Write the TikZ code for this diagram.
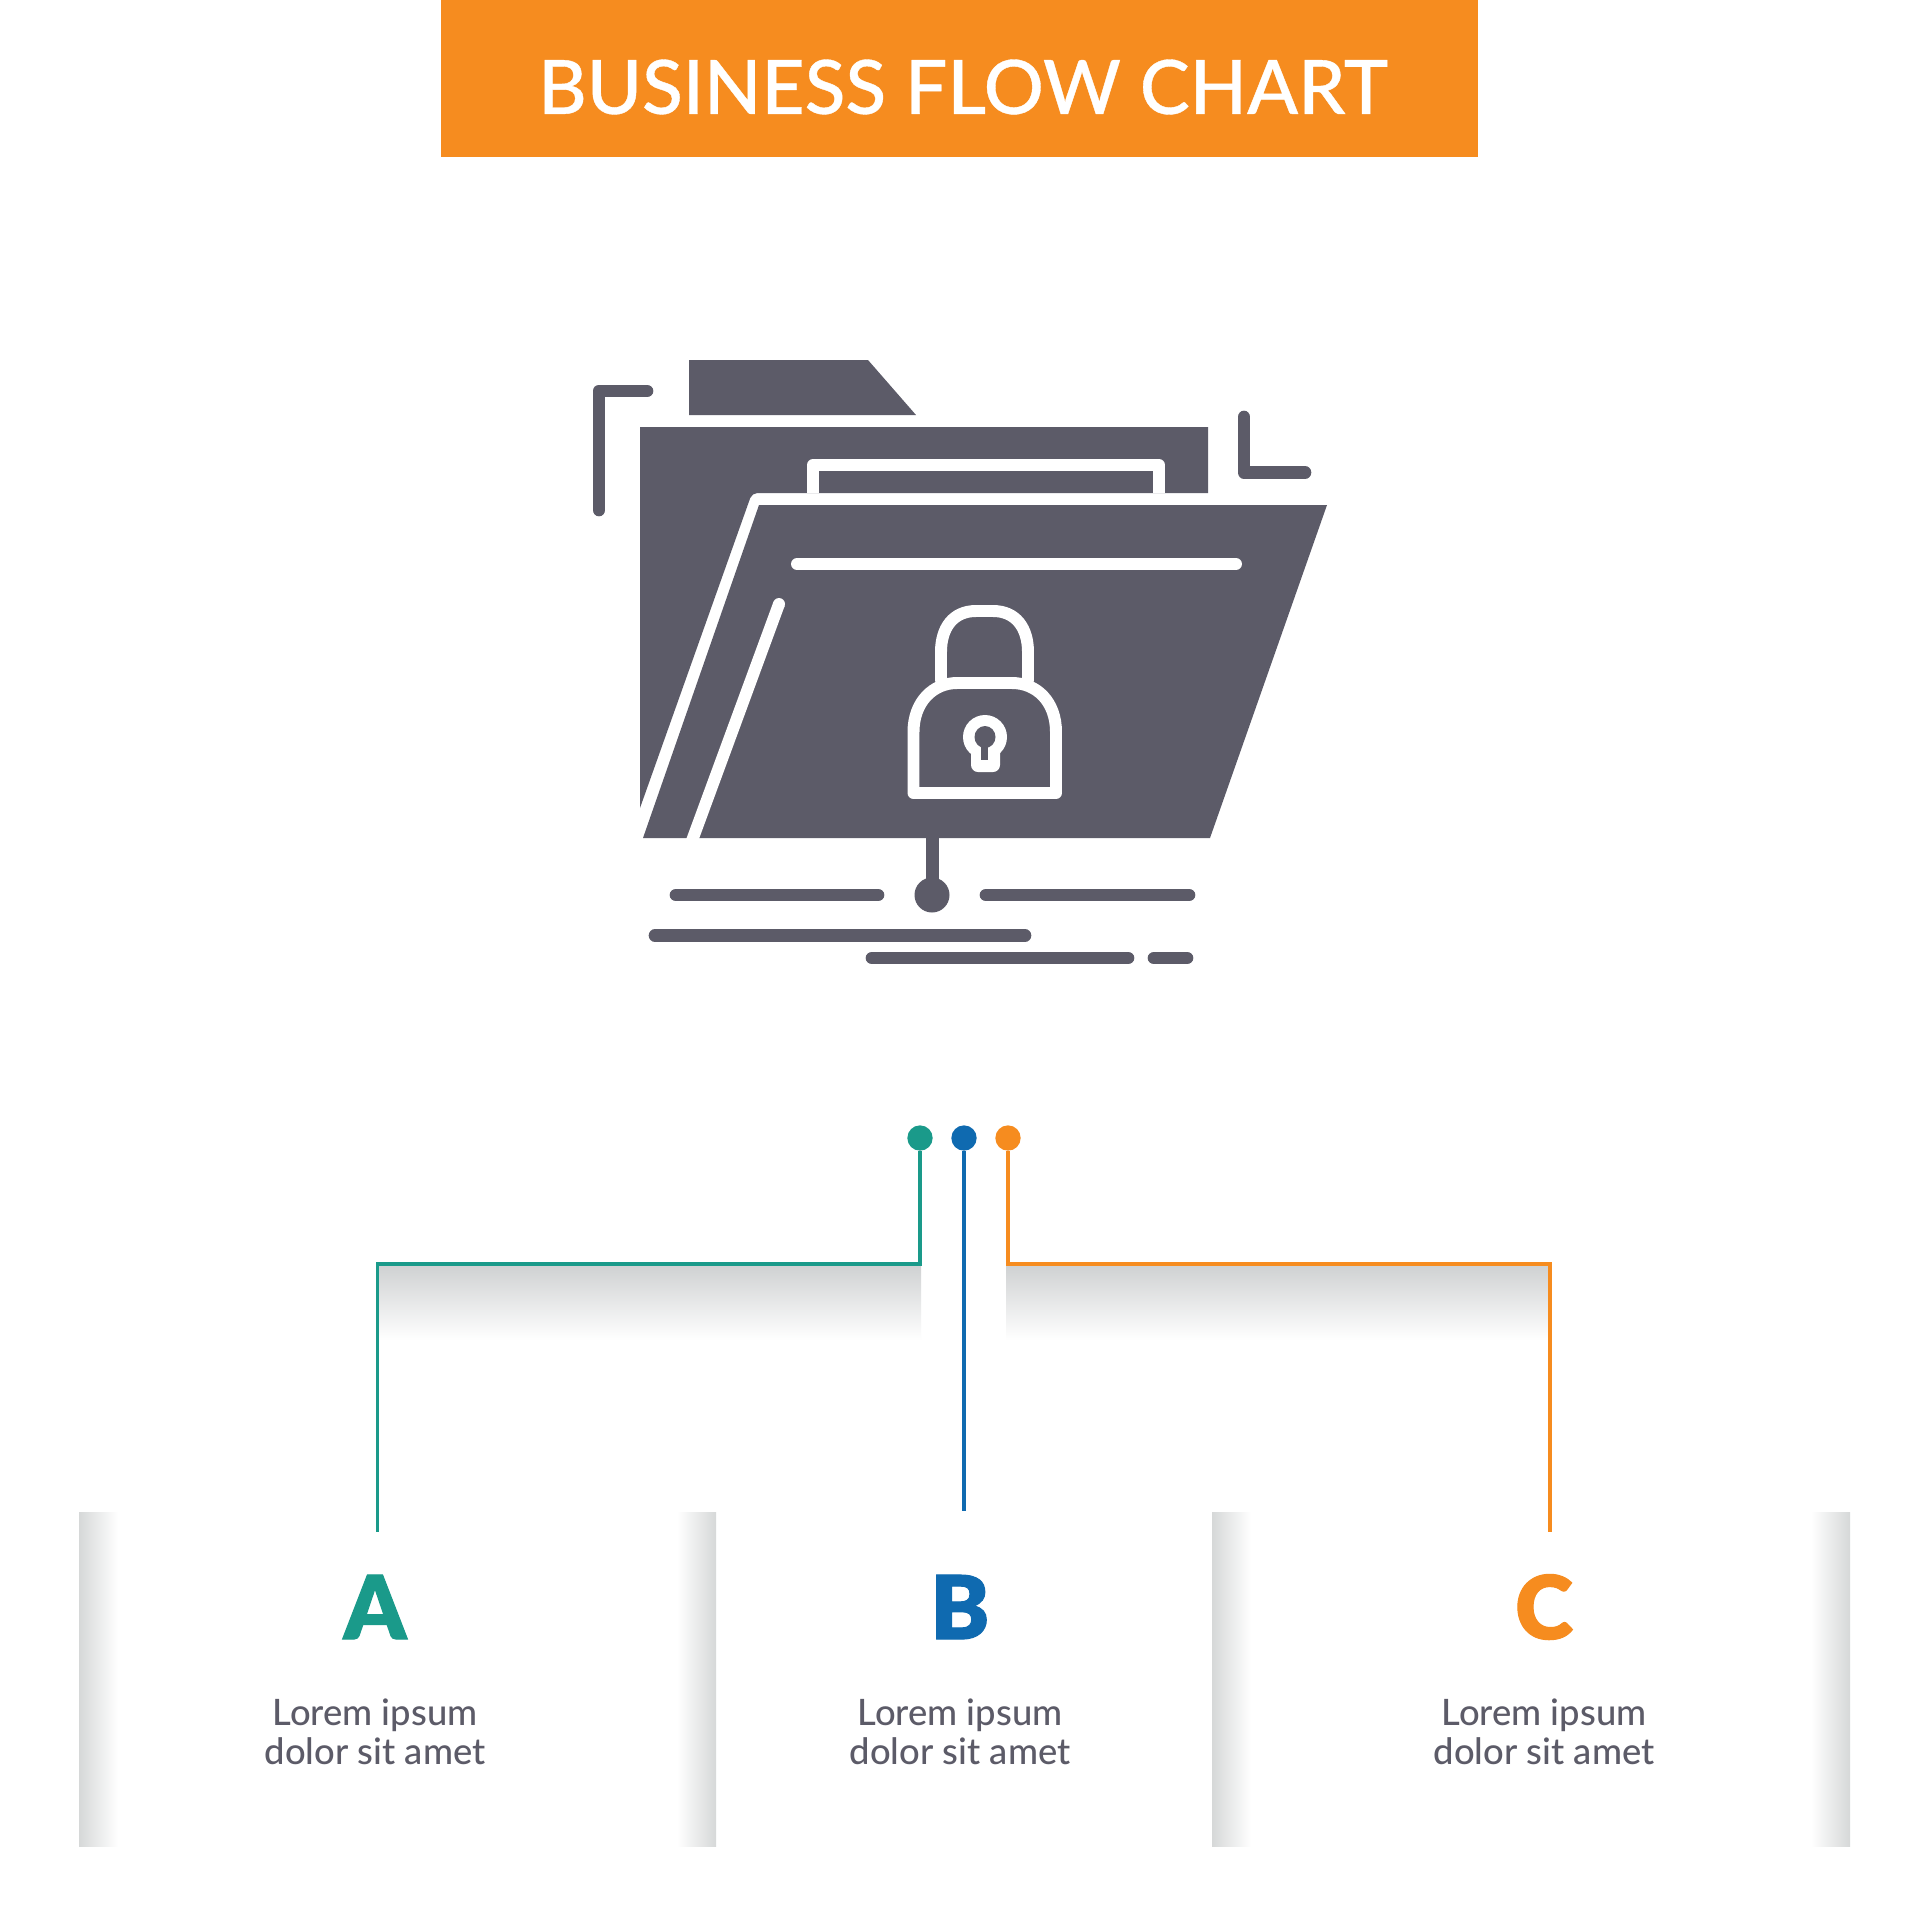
\documentclass[tikz,border=0pt]{standalone}
\usepackage{fontspec}
\setmainfont{Lato Medium}
\newfontfamily\titlefont[RawFeature={embolden=0.5}]{Lato Medium}
\newfontfamily\heavyfont[RawFeature={embolden=1.2}]{Lato Black}
\usepackage{tikz}
\usetikzlibrary{calc}
\definecolor{slate}{HTML}{5C5B68}
\definecolor{banner}{HTML}{F68C1F}
\definecolor{tealline}{HTML}{1A9A8A}
\definecolor{blueline}{HTML}{0F6AB0}
\definecolor{shadow}{HTML}{CFD1D2}
\definecolor{sideshadow}{HTML}{D6D8D8}

\begin{document}
\begin{tikzpicture}
      [x = 0.01cm, y = -0.01cm,
      iconline/.style={slate, line width = 3.6pt, line cap = round, line join = round},
      cutline/.style={white, line width = 3.4pt, line cap = round, line join = round},
      wire/.style={line width = 0.9pt},
      dot/.style= {
         circle,
         inner sep = 0pt,
         minimum size = 7.2pt
      },
      letter/.style= {
         font = \heavyfont\fontsize{25pt}{25pt}\selectfont
      },
      caption/.style= {
         text = slate,
         align = center,
         font = \fontsize{10.35pt}{11.1pt}\selectfont
      }]

      \useasboundingbox (0, 0) rectangle (1920, 1920);
      \fill[white] (0, 0) rectangle (1920, 1920);

      % banner
      \fill[banner] (441, 0) rectangle (1478, 157);
      \node[white, font = \titlefont\fontsize{21.3pt}{21.3pt}\selectfont] (title) at (963, 87) {BUSINESS FLOW CHART};

      % folder
      \fill[slate] (689, 360) -- (868, 360) -- (916, 415) -- (689, 415) -- cycle;
      \fill[slate] (640, 427) -- (1208, 427) -- (1208, 493) [rounded corners = 1.5pt] -- (752, 493) [sharp corners] -- (640, 808) -- cycle;
      \fill[slate] (759, 505) -- (1327, 505) -- (1210, 838) -- (643, 838) -- cycle;
      \draw[cutline, fill = slate, line cap = butt] (813, 493) -- (813, 465) -- (1159, 465) -- (1159, 493);
      \draw[cutline] (797, 564) -- (1236, 564);
      \draw[cutline, line cap = butt] (779, 604) -- (691.5, 842);
      \fill[white] (779, 604) circle (6);

      % lock
      \draw[cutline] (941, 680) -- (941, 652) .. controls (941, 628) and (953, 611) .. (976, 611)
         -- (993, 611) .. controls (1016, 611) and (1028, 628) .. (1028, 652) -- (1028, 680);
      \draw[cutline] (913.5, 793) -- (913.5, 732) .. controls (913.5, 702) and (933, 683) .. (957, 683)
         -- (1012, 683) .. controls (1037, 683) and (1056, 702) .. (1056, 732) -- (1056, 793) -- cycle;
      \fill[white] (985, 737) ellipse (22 and 22);
      \fill[white, rounded corners = 2] (971, 745) rectangle (1000, 772);
      \fill[slate] (985, 737) ellipse (10.5 and 11);
      \fill[slate] (981, 740) rectangle (988, 760);

      % stem and text lines
      \fill[slate] (926, 838) rectangle (938.5, 880);
      \fill[slate] (932, 895) circle (17.5);
      \draw[iconline] (676, 895) -- (878, 895);
      \draw[iconline] (986, 895) -- (1189, 895);
      \draw[iconline] (655, 935.5) -- (1025, 935.5);
      \draw[iconline] (872, 958) -- (1128, 958);
      \draw[iconline] (1154, 958) -- (1187, 958);
      \draw[iconline] (599, 510) -- (599, 391) -- (647, 391);
      \draw[iconline] (1244, 417) -- (1244, 472.5) -- (1305, 472.5);

      % shadows
      \shade[top color = shadow, bottom color = white] (378, 1265) rectangle (921, 1340);
      \shade[top color = shadow, bottom color = white] (1006, 1265) rectangle (1549, 1340);
      \shade[left color = sideshadow, right color = white] (79, 1512) rectangle (118, 1846);
      \shade[left color = white, right color = sideshadow] (677, 1512) rectangle (716, 1846);
      \shade[left color = sideshadow, right color = white] (1212, 1512) rectangle (1251, 1846);
      \shade[left color = white, right color = sideshadow] (1811, 1512) rectangle (1850, 1846);

      % dots and wires
      \node[dot, fill = tealline] (dotA) at (920, 1138) {};
      \node[dot, fill = blueline] (dotB) at (964, 1138) {};
      \node[dot, fill = banner] (dotC) at (1008, 1138) {};
      \coordinate (endA) at (377.5, 1532);
      \coordinate (endB) at (964, 1511);
      \coordinate (endC) at (1550, 1532);
      \coordinate (elbowA) at (920, 1264);
      \coordinate (elbowC) at (1008, 1264);
      \draw[wire, tealline] (dotA) -- (elbowA) -- (endA |- elbowA) -- (endA);
      \draw[wire, blueline] (dotB) -- (endB);
      \draw[wire, banner] (dotC) -- (elbowC) -- (endC |- elbowC) -- (endC);

      % letters
      \node[letter, text = tealline] (letterA) at (375, 1607) {A};
      \node[letter, text = blueline] (letterB) at (960, 1607) {B};
      \node[letter, text = banner] (letterC) at (1544, 1607) {C};

      % captions
      \node[caption] (textA) at (375, 1732) {Lorem ipsum\\dolor sit amet};
      \node[caption] (textB) at (960, 1732) {Lorem ipsum\\dolor sit amet};
      \node[caption] (textC) at (1544, 1732) {Lorem ipsum\\dolor sit amet};

   \end{tikzpicture}
\end{document}
